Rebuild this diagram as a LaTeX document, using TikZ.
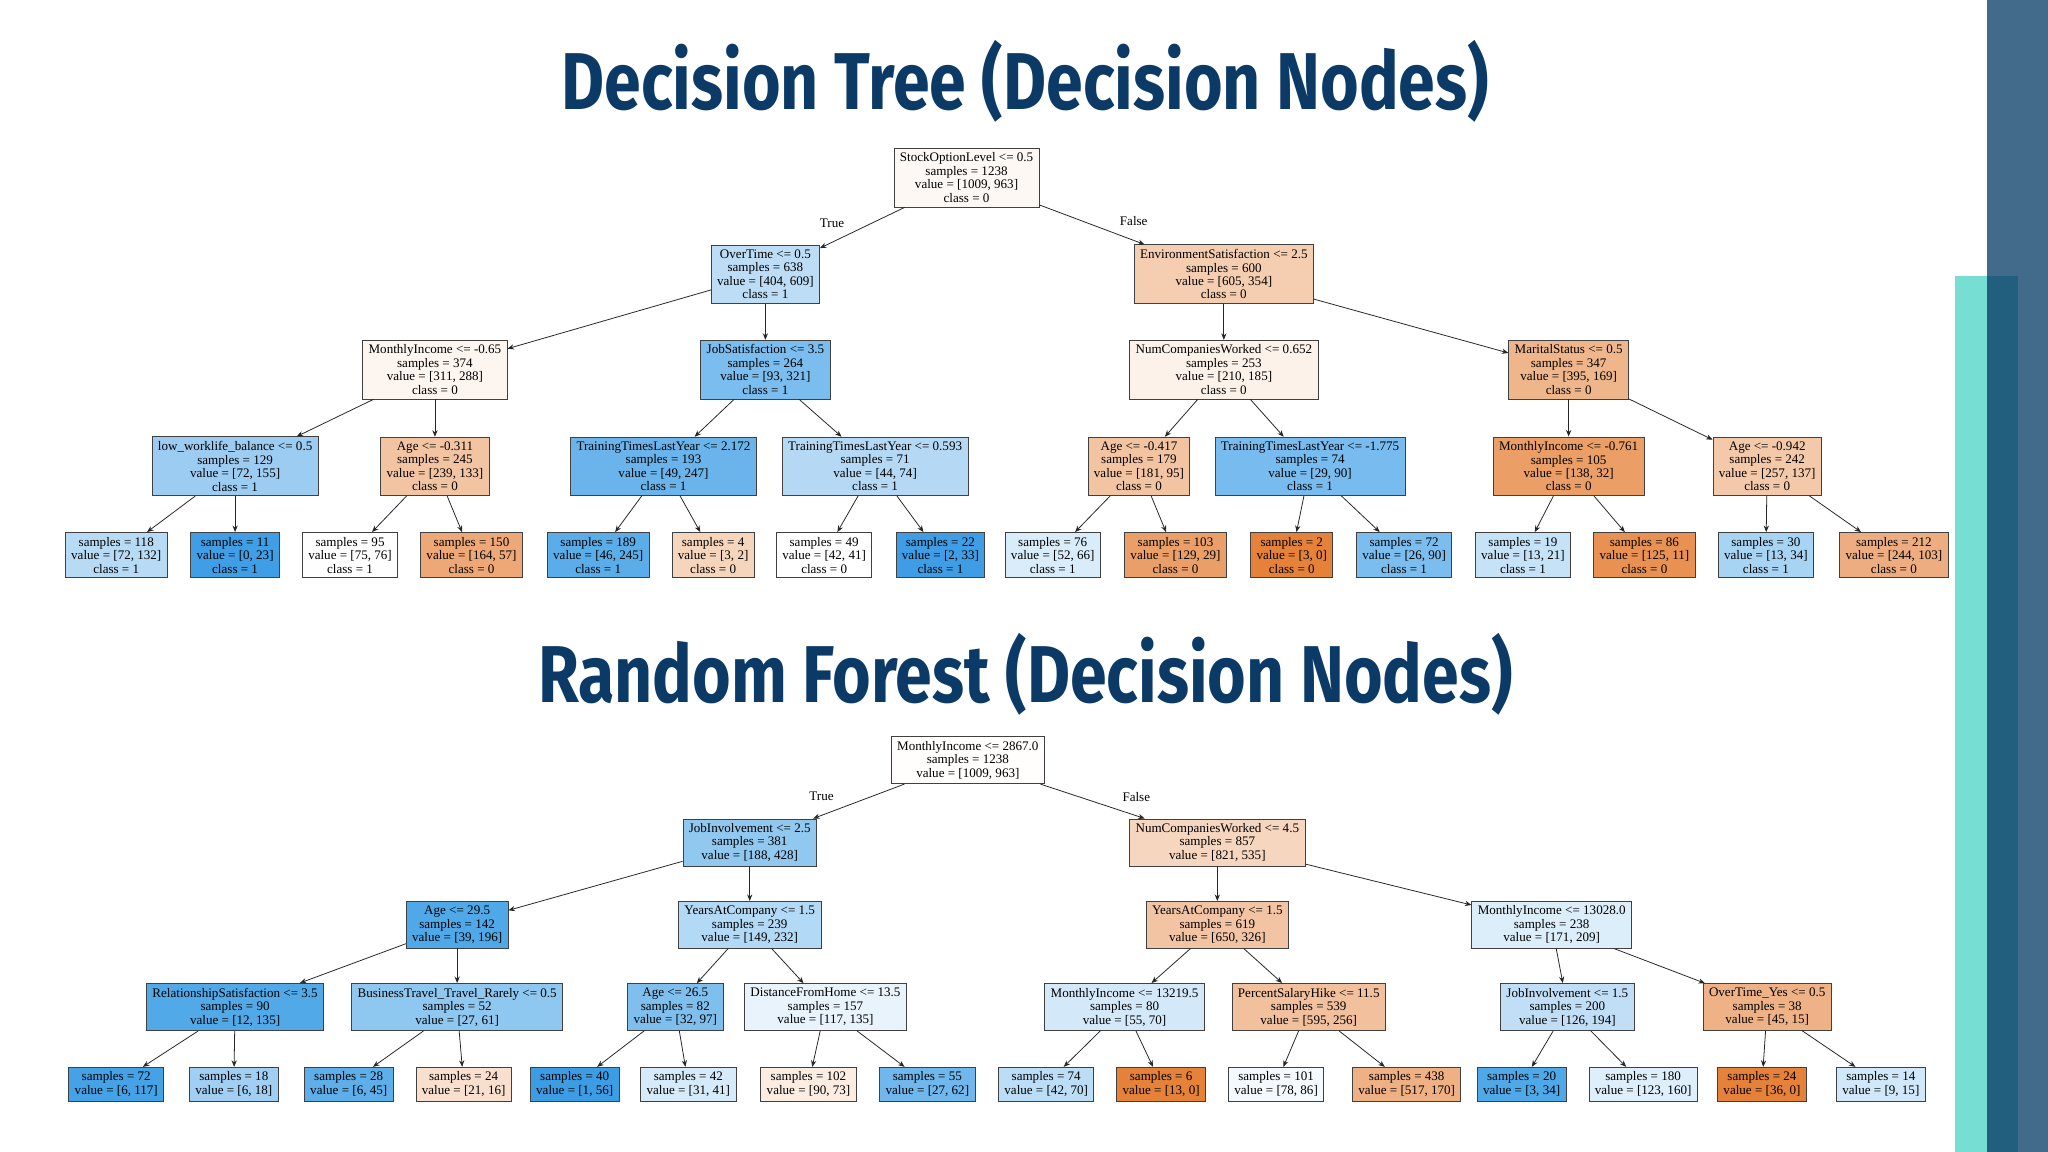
\documentclass[tikz,border=0pt]{standalone}
\usepackage{fontspec}
\setmainfont{Liberation Serif}
\newfontfamily\ttl{Fira Sans}
\usetikzlibrary{arrows.meta}
\definecolor{navy}{HTML}{0B3A66}
\tikzset{tn/.style={draw=black!75,line width=0.6pt,font=\fontsize{10}{10.3}\selectfont,align=center,inner xsep=4.5pt,inner ysep=3.5pt},
edge/.style={draw=black!85,line width=0.6pt,-{Stealth[length=5pt,width=4pt]}},
lab/.style={font=\fontsize{10}{10}\selectfont}}
\newcommand\tn[5]{\definecolor{c#1}{HTML}{#4}\node[tn,fill=c#1] (#1) at (#2pt,-#3pt) {#5};}
\begin{document}
\begin{tikzpicture}[x=1pt,y=1pt]
\useasboundingbox (0,0) rectangle (1568,-882);
\fill[white] (0,0) rectangle (1568,-882);
% side bars
\definecolor{teal1}{HTML}{76DED3}\definecolor{teal2}{HTML}{225F7E}\definecolor{side}{HTML}{426A8A}
\fill[side] (1521,0) rectangle (1568,-882);
\fill[teal1] (1497,-211) rectangle (1521,-882);
\fill[teal2] (1521,-211) rectangle (1545,-882);
% titles
\node[navy,font=\ttl\bfseries] (t1) at (785,-62) {\resizebox{710pt}{53pt}{Decision Tree (Decision Nodes)}};
\node[navy,font=\ttl\bfseries] (t2) at (785,-516) {\resizebox{746pt}{53pt}{Random Forest (Decision Nodes)}};
% ---------- Decision tree
\tn{a}{740}{136}{FDF8F4}{StockOptionLevel <= 0.5\\samples = 1238\\value = [1009, 963]\\class = 0}
\tn{b}{586}{210}{BCDDF5}{OverTime <= 0.5\\samples = 638\\value = [404, 609]\\class = 1}
\tn{c}{937}{210}{F5CDB0}{EnvironmentSatisfaction <= 2.5\\samples = 600\\value = [605, 354]\\class = 0}
\tn{d}{333}{283}{FDF5EF}{MonthlyIncome <= -0.65\\samples = 374\\value = [311, 288]\\class = 0}
\tn{e}{586}{283}{7BBDEE}{JobSatisfaction <= 3.5\\samples = 264\\value = [93, 321]\\class = 1}
\tn{f}{937}{283}{FDF2EA}{NumCompaniesWorked <= 0.652\\samples = 253\\value = [210, 185]\\class = 0}
\tn{g}{1201}{283}{F0B68B}{MaritalStatus <= 0.5\\samples = 347\\value = [395, 169]\\class = 0}
\tn{h}{180}{357}{9CCCF2}{low\_worklife\_balance <= 0.5\\samples = 129\\value = [72, 155]\\class = 1}
\tn{i}{333}{357}{F3C4A2}{Age <= -0.311\\samples = 245\\value = [239, 133]\\class = 0}
\tn{j}{508}{357}{6AB4EB}{TrainingTimesLastYear <= 2.172\\samples = 193\\value = [49, 247]\\class = 1}
\tn{k}{670}{357}{B5D9F5}{TrainingTimesLastYear <= 0.593\\samples = 71\\value = [44, 74]\\class = 1}
\tn{l}{872}{357}{F3C4A2}{Age <= -0.417\\samples = 179\\value = [181, 95]\\class = 0}
\tn{m}{1003}{357}{78BBEE}{TrainingTimesLastYear <= -1.775\\samples = 74\\value = [29, 90]\\class = 1}
\tn{n}{1201}{357}{EB9E66}{MonthlyIncome <= -0.761\\samples = 105\\value = [138, 32]\\class = 0}
\tn{o}{1353}{357}{F4C9AA}{Age <= -0.942\\samples = 242\\value = [257, 137]\\class = 0}
\tn{l1}{89}{425}{B7DBF5}{samples = 118\\value = [72, 132]\\class = 1}
\tn{l2}{180}{425}{3F9EE5}{samples = 11\\value = [0, 23]\\class = 1}
\tn{l3}{268}{425}{FEFEFF}{samples = 95\\value = [75, 76]\\class = 1}
\tn{l4}{361}{425}{EEA877}{samples = 150\\value = [164, 57]\\class = 0}
\tn{l5}{458}{425}{5BADE9}{samples = 189\\value = [46, 245]\\class = 1}
\tn{l6}{546}{425}{F6D5BD}{samples = 4\\value = [3, 2]\\class = 0}
\tn{l7}{631}{425}{FFFFFF}{samples = 49\\value = [42, 41]\\class = 0}
\tn{l8}{720}{425}{3F9DE5}{samples = 22\\value = [2, 33]\\class = 1}
\tn{l9}{806}{425}{D9ECFA}{samples = 76\\value = [52, 66]\\class = 1}
\tn{l10}{900}{425}{EB9F68}{samples = 103\\value = [129, 29]\\class = 0}
\tn{l11}{989}{425}{E58139}{samples = 2\\value = [3, 0]\\class = 0}
\tn{l12}{1075}{425}{7BBDEE}{samples = 72\\value = [26, 90]\\class = 1}
\tn{l13}{1166}{425}{C5E2F7}{samples = 19\\value = [13, 21]\\class = 1}
\tn{l14}{1259}{425}{E89152}{samples = 86\\value = [125, 11]\\class = 0}
\tn{l15}{1352}{425}{A8D4F4}{samples = 30\\value = [13, 34]\\class = 1}
\tn{l16}{1450}{425}{EEAD80}{samples = 212\\value = [244, 103]\\class = 0}
\foreach \p/\c in {a/b,a/c,b/d,b/e,c/f,c/g,d/h,d/i,e/j,e/k,f/l,f/m,g/n,g/o,h/l1,h/l2,i/l3,i/l4,j/l5,j/l6,k/l7,k/l8,l/l9,l/l10,m/l11,m/l12,n/l13,n/l14,o/l15,o/l16}
  \draw[edge] (\p) -- (\c);
\node[lab] (tr1) at (637,-171) {True};
\node[lab] (fa1) at (868,-169) {False};
% ---------- Random forest
\tn{A}{741}{582}{FFFEFD}{MonthlyIncome <= 2867.0\\samples = 1238\\value = [1009, 963]}
\tn{B}{574}{645}{90C8F0}{JobInvolvement <= 2.5\\samples = 381\\value = [188, 428]}
\tn{C}{932}{645}{F7D6BF}{NumCompaniesWorked <= 4.5\\samples = 857\\value = [821, 535]}
\tn{D}{350}{708}{4FA8E8}{Age <= 29.5\\samples = 142\\value = [39, 196]}
\tn{E}{574}{708}{B2D9F5}{YearsAtCompany <= 1.5\\samples = 239\\value = [149, 232]}
\tn{F}{932}{708}{F3C4A3}{YearsAtCompany <= 1.5\\samples = 619\\value = [650, 326]}
\tn{G}{1188}{708}{DCEEFA}{MonthlyIncome <= 13028.0\\samples = 238\\value = [171, 209]}
\tn{H}{180}{771}{51A9E8}{RelationshipSatisfaction <= 3.5\\samples = 90\\value = [12, 135]}
\tn{I}{350}{771}{8EC7F0}{BusinessTravel\_Travel\_Rarely <= 0.5\\samples = 52\\value = [27, 61]}
\tn{J}{517}{771}{7FBFEE}{Age <= 26.5\\samples = 82\\value = [32, 97]}
\tn{K}{632}{771}{E8F3FC}{DistanceFromHome <= 13.5\\samples = 157\\value = [117, 135]}
\tn{L}{861}{771}{D3E9F9}{MonthlyIncome <= 13219.5\\samples = 80\\value = [55, 70]}
\tn{M}{1002}{771}{F2C09C}{PercentSalaryHike <= 11.5\\samples = 539\\value = [595, 256]}
\tn{N}{1200}{771}{C0DFF6}{JobInvolvement <= 1.5\\samples = 200\\value = [126, 194]}
\tn{O}{1353}{771}{EFB286}{OverTime\_Yes <= 0.5\\samples = 38\\value = [45, 15]}
\tn{L1}{89}{830}{45A2E6}{samples = 72\\value = [6, 117]}
\tn{L2}{179}{830}{A0CFF3}{samples = 18\\value = [6, 18]}
\tn{L3}{267}{830}{5DAEE9}{samples = 28\\value = [6, 45]}
\tn{L4}{355}{830}{F9E0CE}{samples = 24\\value = [21, 16]}
\tn{L5}{440}{830}{3C9DE5}{samples = 40\\value = [1, 56]}
\tn{L6}{527}{830}{D6EBFA}{samples = 42\\value = [31, 41]}
\tn{L7}{619}{830}{FCEDE3}{samples = 102\\value = [90, 73]}
\tn{L8}{710}{830}{6FB7EC}{samples = 55\\value = [27, 62]}
\tn{L9}{801}{830}{BBDDF6}{samples = 74\\value = [42, 70]}
\tn{L10}{889}{830}{E58139}{samples = 6\\value = [13, 0]}
\tn{L11}{977}{830}{F3F9FD}{samples = 101\\value = [78, 86]}
\tn{L12}{1077}{830}{EFB084}{samples = 438\\value = [517, 170]}
\tn{L13}{1165}{830}{4FA8E8}{samples = 20\\value = [3, 34]}
\tn{L14}{1258}{830}{DEEFFB}{samples = 180\\value = [123, 160]}
\tn{L15}{1349}{830}{E58139}{samples = 24\\value = [36, 0]}
\tn{L16}{1440}{830}{D0E8F9}{samples = 14\\value = [9, 15]}
\foreach \p/\c in {A/B,A/C,B/D,B/E,C/F,C/G,D/H,D/I,E/J,E/K,F/L,F/M,G/N,G/O,H/L1,H/L2,I/L3,I/L4,J/L5,J/L6,K/L7,K/L8,L/L9,L/L10,M/L11,M/L12,N/L13,N/L14,O/L15,O/L16}
  \draw[edge] (\p) -- (\c);
\node[lab] (tr2) at (629,-610) {True};
\node[lab] (fa2) at (870,-610) {False};
\end{tikzpicture}
\end{document}
